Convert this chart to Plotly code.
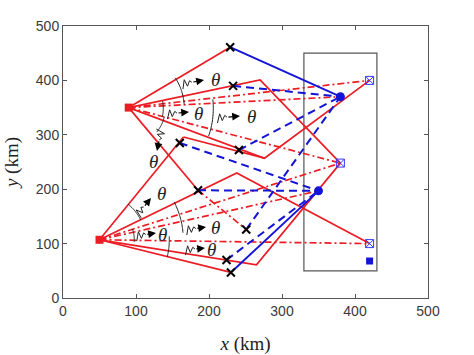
import math
import plotly.graph_objects as go

# ---------------- data (km) ----------------
src_x = [90, 50]
src_y = [350, 107]
tgt_x = [420, 380, 420]
tgt_y = [400, 248, 100]
rcv_x = [380, 350]
rcv_y = [370, 197]
aux_x = [420]
aux_y = [68]
cross_x = [229, 233, 241, 160, 185, 251, 224, 230]
cross_y = [461, 390, 272, 285, 198, 126, 70, 47]
# beam-edge bend vertices: U1, V1, W, V2, V3
vert_x = [270, 276, 165, 238, 265]
vert_y = [401, 257, 296, 230, 61]
box_x = [330, 430]
box_y = [50, 450]
xticks = [0, 100, 200, 300, 400, 500]
yticks = [0, 100, 200, 300, 400, 500]

S = lambda i: (src_x[i], src_y[i])
Tg = lambda i: (tgt_x[i], tgt_y[i])
Rc = lambda i: (rcv_x[i], rcv_y[i])
C = lambda i: (cross_x[i], cross_y[i])
V = lambda i: (vert_x[i], vert_y[i])

red_solid = [
    [S(0), C(0)],
    [S(0), V(0), Tg(1)],
    [S(0), V(1), Tg(0)],
    [S(0), C(4)],
    [S(1), V(2)],
    [V(2), V(1)],
    [S(1), V(3), Tg(2)],
    [S(1), V(4), Tg(1)],
    [S(1), C(7)],
]
red_dashdot = [
    [S(0), Tg(0)], [S(0), Rc(0)], [S(0), Tg(1)],
    [S(1), Tg(1)], [S(1), Rc(1)], [S(1), Tg(2)],
    [C(4), C(5)],
]
blue_solid = [[C(0), Rc(0)], [C(7), Rc(1)]]
blue_dash = [[C(1), Rc(0)], [C(2), Rc(0)], [C(5), Rc(0)],
             [C(3), Rc(1)], [C(4), Rc(1)], [C(6), Rc(1)]]


def xy(polys):
    xs, ys = [], []
    for p in polys:
        for (a, b) in p:
            xs.append(a); ys.append(b)
        xs.append(None); ys.append(None)
    return xs, ys


RED = "#ec1c24"
BLUE = "#1414d8"

W, H = 474, 355
L, Rm, Tm, Bm = 63, 46, 26, 57
PW, PH = W - L - Rm, H - Tm - Bm


def p2d(px, py):
    return ((px - L) / PW * 500, (H - Bm - py) / PH * 500)


fig = go.Figure()

x, y = xy(red_solid)
fig.add_trace(go.Scatter(x=x, y=y, mode="lines", line=dict(color=RED, width=1.7)))
x, y = xy(red_dashdot)
fig.add_trace(go.Scatter(x=x, y=y, mode="lines",
                         line=dict(color=RED, width=1.7, dash="7px,3px,2px,3px")))
x, y = xy(blue_dash)
fig.add_trace(go.Scatter(x=x, y=y, mode="lines",
                         line=dict(color=BLUE, width=2, dash="8px,5px")))
x, y = xy(blue_solid)
fig.add_trace(go.Scatter(x=x, y=y, mode="lines", line=dict(color=BLUE, width=1.9)))

fig.add_trace(go.Scatter(x=cross_x, y=cross_y, mode="markers",
                         marker=dict(symbol="x-thin-open", size=8, color="black",
                                     line=dict(width=2, color="black"))))
fig.add_trace(go.Scatter(x=src_x, y=src_y, mode="markers",
                         marker=dict(symbol="square", size=8, color=RED)))
fig.add_trace(go.Scatter(x=tgt_x, y=tgt_y, mode="markers",
                         marker=dict(symbol="square-x-open", size=8, color="#3a3aff",
                                     line=dict(width=1, color="#3a3aff"))))
fig.add_trace(go.Scatter(x=rcv_x, y=rcv_y, mode="markers",
                         marker=dict(symbol="circle", size=9, color=BLUE)))
fig.add_trace(go.Scatter(x=aux_x, y=aux_y, mode="markers",
                         marker=dict(symbol="square", size=7, color=BLUE)))

shapes = [dict(type="rect", xref="x", yref="y", x0=box_x[0], x1=box_x[1],
               y0=box_y[0], y1=box_y[1], line=dict(color="#555555", width=1.2),
               layer="below")]
annotations = []


def arc(cx, cy, r, a0, a1):
    pts = []
    n = 24
    for k in range(n + 1):
        a = math.radians(a0 + (a1 - a0) * k / n)
        pts.append(p2d(cx + r * math.cos(a), cy + r * math.sin(a)))
    d = "M " + " L ".join(f"{px:.2f},{py:.2f}" for px, py in pts)
    shapes.append(dict(type="path", xref="x", yref="y", path=d,
                       line=dict(color="#222222", width=1)))


def squiggle(sx, sy, tx, ty, lx, ly):
    dx, dy = tx - sx, ty - sy
    ln = math.hypot(dx, dy)
    ux, uy = dx / ln, dy / ln
    nx, ny = -uy, ux
    loc = [(-1, 5), (2, -4), (4, 3), (7, -2), (9, 0)]
    pts = [p2d(sx + a * ux + b * nx, sy + a * uy + b * ny) for a, b in loc]
    d = "M " + " L ".join(f"{px:.2f},{py:.2f}" for px, py in pts)
    shapes.append(dict(type="path", xref="x", yref="y", path=d,
                       line=dict(color="#222222", width=1)))
    ex, ey = sx + 9 * ux, sy + 9 * uy
    hx, hy = p2d(tx, ty)
    annotations.append(dict(x=hx, y=hy, xref="x", yref="y", ax=ex - tx, ay=ey - ty,
                            axref="pixel", ayref="pixel", text="", showarrow=True,
                            arrowhead=2, arrowsize=1.3, arrowwidth=1.2,
                            arrowcolor="black", standoff=0))
    qx, qy = p2d(lx, ly)
    annotations.append(dict(x=qx, y=qy, xref="x", yref="y", text="<i>θ</i>",
                            showarrow=False,
                            font=dict(family="Liberation Serif", size=19, color="#222222")))


# source 1 decorations (pixel geometry)
arc(128.3, 108.3, 56, -33, -4)
squiggle(183, 84, 204, 80, 215, 79)
arc(128.3, 108.3, 35, -12, 14)
squiggle(168, 114, 189, 112, 198, 113)
arc(128.3, 108.3, 85, -6, 19)
squiggle(218, 118, 240, 116, 251, 116)
arc(128.3, 108.3, 37, 14, 40)
squiggle(161, 131, 157, 151, 153, 161)
# source 2 decorations
arc(99.3, 240, 46, -51, -26)
squiggle(138, 214, 151, 198, 161, 193)
arc(99.3, 240, 84, -27, -5)
squiggle(187, 230, 206, 227, 215, 227)
arc(99.3, 240, 35, -18, 3)
squiggle(137, 236, 156, 233, 162, 234)
arc(99.3, 240, 70, -3, 14)
squiggle(186, 250, 205, 248, 211, 249)

axis_common = dict(range=[0, 500], showgrid=False, zeroline=False, ticks="inside",
                   ticklen=4, tickcolor="#555555", showline=True, linecolor="#555555",
                   linewidth=1, mirror="ticks", automargin=False,
                   tickfont=dict(family="Liberation Sans", size=14, color="#3a3a3a"))

fig.update_layout(
    width=W, height=H, autosize=False,
    margin=dict(l=L, r=Rm, t=Tm, b=Bm, pad=0),
    paper_bgcolor="white", plot_bgcolor="white", showlegend=False,
    shapes=shapes, annotations=annotations,
    xaxis=dict(**axis_common, tickvals=xticks, ticktext=[str(v) for v in xticks],
               title=dict(text="<i>x</i> (km)", standoff=18,
                          font=dict(family="Liberation Serif", size=19, color="#222222"))),
    yaxis=dict(**axis_common, tickvals=yticks, ticktext=[str(v) for v in yticks],
               title=dict(text="<i>y</i> (km)", standoff=12,
                          font=dict(family="Liberation Serif", size=19, color="#222222"))),
)

fig.write_html("out.html", config={"displayModeBar": False},
               post_script="document.body.style.margin='0px';")
